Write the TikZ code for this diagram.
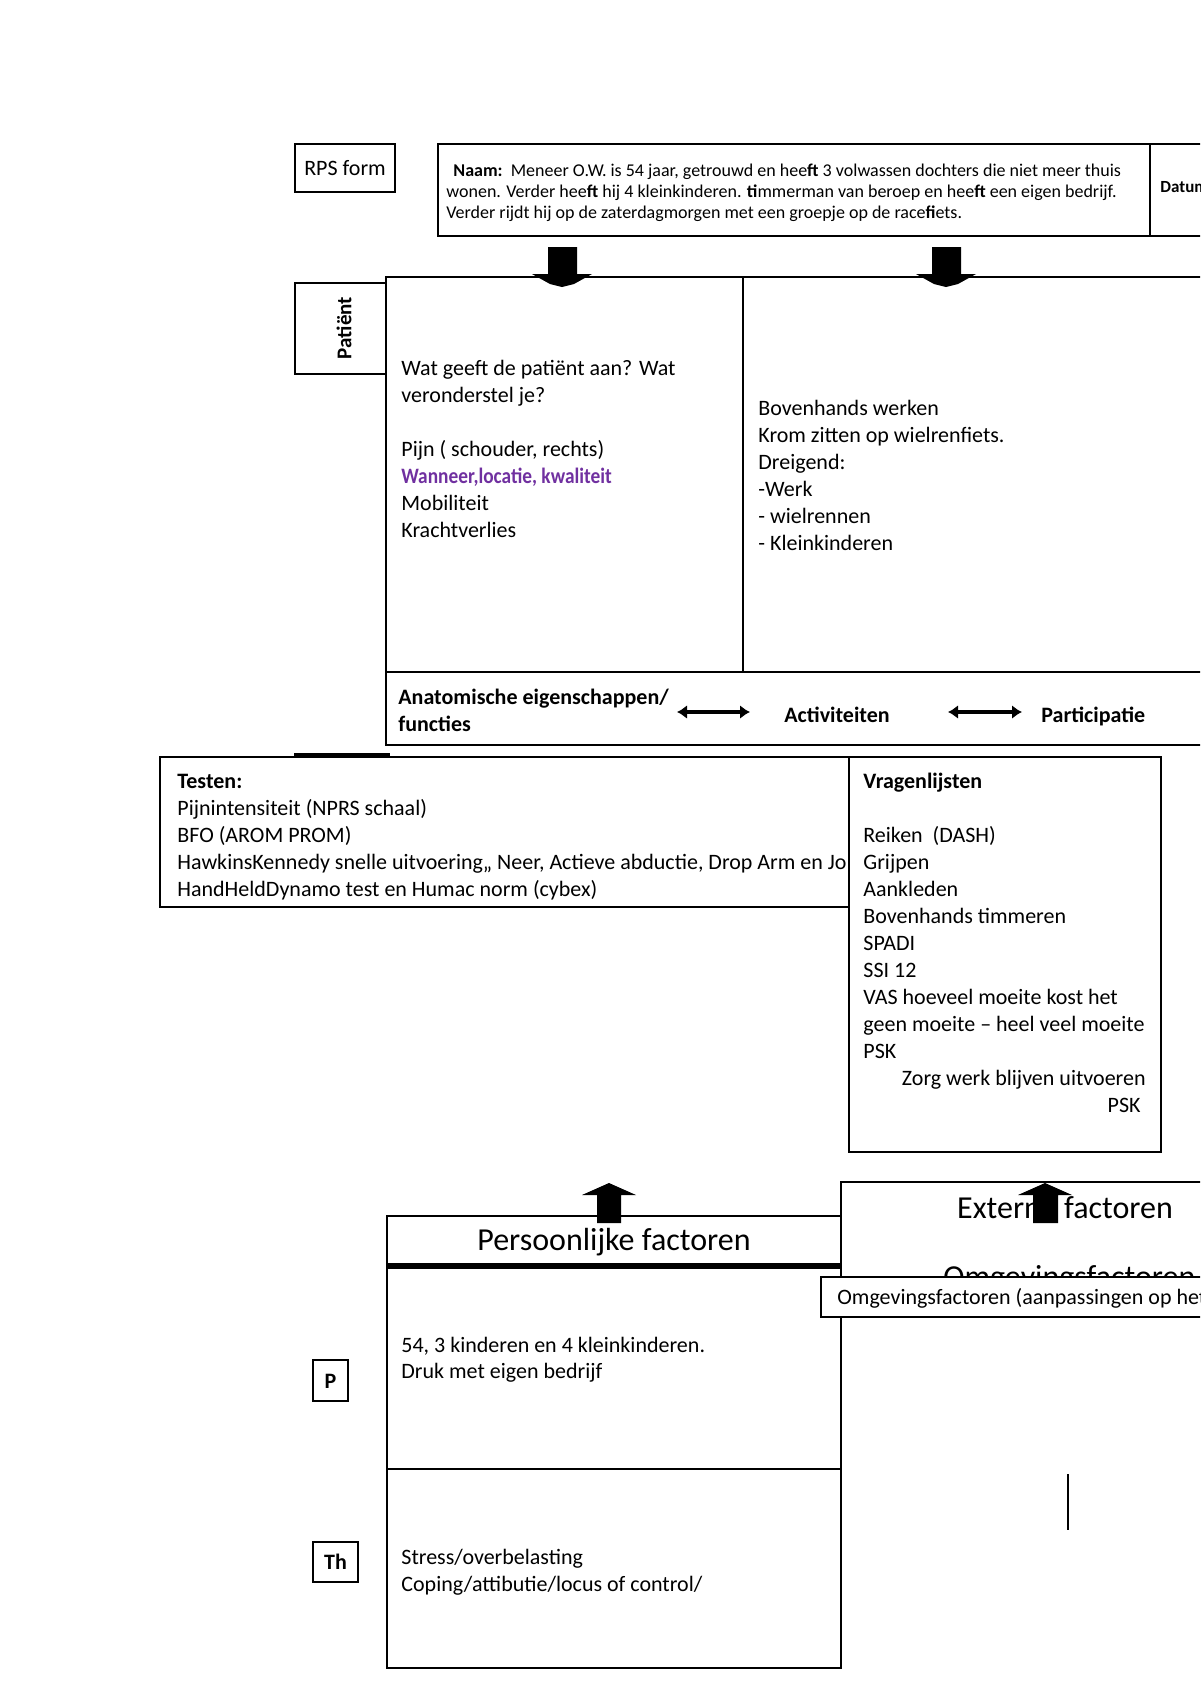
\documentclass[tikz,border=0pt]{standalone}
\usepackage{fontspec}
\setmainfont{Carlito}
\usetikzlibrary{arrows.meta}
\definecolor{wpurple}{HTML}{7030A0}
\begin{document}
\begin{tikzpicture}[x=0.5pt,y=-0.5pt,
  frame/.style={draw=black, line width=1.4pt},
  thinframe/.style={draw=black, line width=0.8pt},
  txt/.style={anchor=base west, inner sep=0pt, font=\fontsize{11}{13.4}\selectfont},
  txtb/.style={txt, font=\fontsize{11}{13.4}\selectfont\bfseries},
  smalltxt/.style={anchor=base west, inner sep=0pt, font=\fontsize{9}{10.8}\selectfont},
  bigtxt/.style={anchor=base, inner sep=0pt, font=\fontsize{16}{19}\selectfont},
  dblarrow/.style={line width=1.7pt, {Latex[length=5pt,width=7pt]}-{Latex[length=5pt,width=7pt]}},
  blockarrow/.style={fill=black, draw=none}]
\useasboundingbox (0,0) rectangle (1200,1698);
\clip (0,0) rectangle (1200,1698);

% RPS form
\draw[frame] (295,144) rectangle (395,192);
\node[txt, anchor=base] (rps) at (345,175) {RPS form};

% Naam box
\draw[frame] (438,144) rectangle (1150,236);
\draw[frame] (1150,144) rectangle (1260,236);
\node[smalltxt] (naam1) at (453,176) {\textbf{Naam:}\ \ Meneer O.W. is 54 jaar, getrouwd en hee\textbf{ft} 3 volwassen dochters die niet meer thuis};
\node[smalltxt] (naam2) at (446,197) {wonen. Verder hee\textbf{ft} hij 4 kleinkinderen. \textbf{ti}mmerman van beroep en hee\textbf{ft} een eigen bedrijf.};
\node[smalltxt] (naam3) at (446,218) {Verder rijdt hij op de zaterdagmorgen met een groepje op de race\textbf{fi}ets.};
\node[smalltxt, font=\fontsize{8.5}{10}\selectfont\bfseries] (datum) at (1160,192) {Datum};

% main patient box
\draw[frame] (386,277) rectangle (1260,745);
\draw[frame] (386,672) -- (1260,672);
\draw[frame] (743,277) -- (743,672);

% down block arrows
\fill[blockarrow] (548,247) -- (577,247) -- (577,274) -- (592,274) -- (574,284) -- (562,287) -- (550,284) -- (532,274) -- (548,274) -- cycle;
\fill[blockarrow] (932,247) -- (961,247) -- (961,274) -- (976,274) -- (958,284) -- (946,287) -- (934,284) -- (916,274) -- (932,274) -- cycle;

% Patient label
\draw[frame] (295,283) rectangle (386,374);
\node[rotate=90, inner sep=0pt, font=\fontsize{10.5}{12}\selectfont\bfseries] (pat) at (344,328) {Patiënt};

% left column
\node[txt] (l1) at (401,375) {Wat geeft de patiënt aan? Wat};
\node[txt] (l2) at (401,402) {veronderstel je?};
\node[txt] (l3) at (401,456) {Pijn ( schouder, rechts)};
\node[txtb, text=wpurple] (l4) at (401,483) {\scalebox{0.88}[1]{Wanneer,locatie, kwaliteit}};
\node[txt] (l5) at (401,510) {Mobiliteit};
\node[txt] (l6) at (401,537) {Krachtverlies};

% right column
\node[txt] (r1) at (758,415) {Bovenhands werken};
\node[txt] (r2) at (758,442) {Krom zitten op wielrenfiets.};
\node[txt] (r3) at (758,469) {Dreigend:};
\node[txt] (r4) at (758,496) {-Werk};
\node[txt] (r5) at (758,523) {- wielrennen};
\node[txt] (r6) at (758,550) {- Kleinkinderen};

% bottom row
\node[txtb] (anat1) at (398,704) {Anatomische eigenschappen/};
\node[txtb] (anat2) at (398,731) {functies};
\node[txtb] (act) at (784,722) {Activiteiten};
\node[txtb] (part) at (1041,722) {Participatie};
\coordinate (a1s) at (677,712);
\coordinate (a1e) at (750,712);
\coordinate (a2s) at (948,712);
\coordinate (a2e) at (1022,712);
\draw[dblarrow] (a1s) -- (a1e);
\draw[dblarrow] (a2s) -- (a2e);

% thick short line
\draw[line width=2.2pt] (294,755) -- (390,755);

% Testen box
\draw[thinframe] (160,757) rectangle (849,907);
\begin{scope}
\clip (160,757) rectangle (849,907);
\node[txtb] (t1) at (177,788) {Testen:};
\node[txt] (t2) at (177,815) {Pijnintensiteit (NPRS schaal)};
\node[txt] (t3) at (177,842) {BFO (AROM PROM)};
\node[txt] (t4) at (177,869) {HawkinsKennedy snelle uitvoering,, Neer, Actieve abductie, Drop Arm en Jobe};
\node[txt] (t5) at (177,896) {HandHeldDynamo test en Humac norm (cybex)};
\end{scope}

% Vragenlijsten box
\draw[thinframe] (849,757) rectangle (1161,1152);
\node[txtb] (v1) at (863,788) {Vragenlijsten};
\node[txt] (v2) at (863,842) {Reiken\ \ (DASH)};
\node[txt] (v3) at (863,869) {Grijpen};
\node[txt] (v4) at (863,896) {Aankleden};
\node[txt] (v5) at (863,923) {Bovenhands timmeren};
\node[txt] (v6) at (863,950) {SPADI};
\node[txt] (v7) at (863,977) {SSI 12};
\node[txt] (v8) at (863,1004) {VAS hoeveel moeite kost het};
\node[txt] (v9) at (863,1031) {geen moeite -- heel veel moeite};
\node[txt] (v10) at (863,1058) {PSK};
\node[txt, anchor=base east] (v11) at (1146,1085) {Zorg werk blijven uitvoeren};
\node[txt, anchor=base east] (v12) at (1141,1112) {PSK};

% Persoonlijke factoren
\draw[frame] (387,1216) rectangle (841,1668);
\draw[line width=2.6pt] (387,1266) -- (841,1266);
\draw[frame] (387,1469) -- (841,1469);
\node[bigtxt] (pers) at (614,1250) {Persoonlijke factoren};
\node[txt] (p1) at (401,1352) {54, 3 kinderen en 4 kleinkinderen.};
\node[txt] (p2) at (401,1378) {Druk met eigen bedrijf};
\node[txt] (p3) at (401,1564) {Stress/overbelasting};
\node[txt] (p4) at (401,1591) {Coping/attibutie/locus of control/};

% Externe factoren
\draw[frame] (841,1668) -- (841,1182) -- (1260,1182);
\node[bigtxt] (ext) at (1065,1218) {Externe factoren};
\node[bigtxt, anchor=base west] (omg) at (943,1287) {Omgevingsfactoren};
\draw[thinframe, fill=white] (821,1277) rectangle (1260,1317);
\node[txt] (omg2) at (837,1304) {Omgevingsfactoren (aanpassingen op het};
\draw[line width=0.8pt] (1068,1474) -- (1068,1530);

% up block arrows
\fill[blockarrow] (609,1183) -- (636,1195) -- (621,1195) -- (621,1223) -- (597,1223) -- (597,1195) -- (582,1195) -- cycle;
\fill[blockarrow] (1045,1183) -- (1072,1195) -- (1058,1195) -- (1058,1223) -- (1033,1223) -- (1033,1195) -- (1018,1195) -- cycle;

% P and Th labels
\draw[frame] (313,1360) rectangle (348,1401);
\node[inner sep=0pt, font=\fontsize{11}{13}\selectfont\bfseries] (plab) at (330.5,1381) {P};
\draw[frame] (313,1542) rectangle (358,1582);
\node[inner sep=0pt, font=\fontsize{11}{13}\selectfont\bfseries] (thlab) at (335.5,1562) {Th};
\end{tikzpicture}
\end{document}
